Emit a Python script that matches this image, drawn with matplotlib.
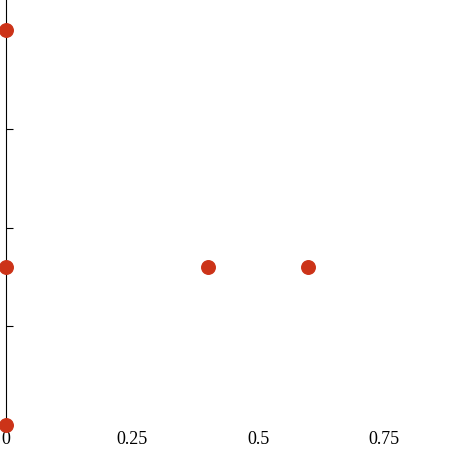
import matplotlib.pyplot as plt

x_vals = [0, 0, 0, 0.4, 0.6]
y_vals = [1.0, 0.4, 0.0, 0.4, 0.4]
x_ticks = [0, 0.25, 0.5, 0.75]
x_labels = ["0", "0.25", "0.5", "0.75"]
y_ticks = [0, 0.25, 0.5, 0.75, 1.0]

plt.rcParams["font.family"] = ["Liberation Serif", "DejaVu Serif"]

fig = plt.figure(figsize=(4.74, 4.74), dpi=100)
ax = fig.add_axes([6 / 474, 49 / 474, 1 - 6 / 474, 425 / 474])
ax.scatter(x_vals, y_vals, s=95, color="#cc3318", zorder=3, clip_on=False)

ax.set_xlim(0, 468 / 504)
ax.set_ylim(0, 425 / 395)
ax.set_xticks(x_ticks)
ax.set_xticklabels(x_labels, fontsize=13)
ax.set_yticks(y_ticks)
ax.set_yticklabels([])
ax.tick_params(axis="y", direction="in", length=5)
ax.tick_params(axis="x", direction="in", length=0, pad=4)
for side in ["top", "right"]:
    ax.spines[side].set_visible(False)
ax.spines["bottom"].set_visible(False)

fig.savefig("out.png", dpi=100)
